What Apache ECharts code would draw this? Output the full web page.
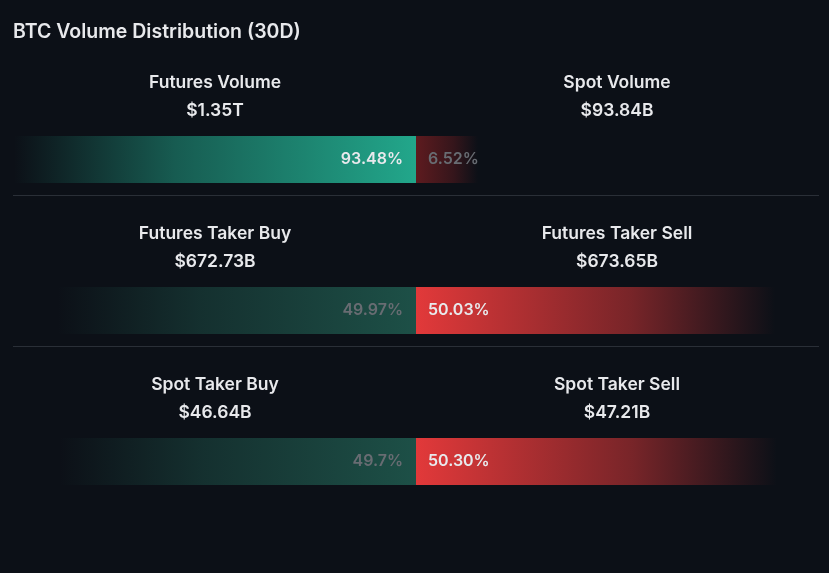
<!DOCTYPE html>
<html lang="en">

<head>
    <meta charset="UTF-8">
    <title>BTC Volume Distribution (30D)</title>
    <script src="https://cdn.jsdelivr.net/npm/echarts@6/dist/echarts.min.js"></script>
    <style>
        html, body {
            margin: 0;
            padding: 0;
            background-color: #0c1017;
        }
        #main {
            width: 829px;
            height: 573px;
        }
    </style>
</head>

<body>
    <div id="main"></div>

    <script>
        // data
        var leftNames = ['Futures Volume', 'Futures Taker Buy', 'Spot Taker Buy'];
        var rightNames = ['Spot Volume', 'Futures Taker Sell', 'Spot Taker Sell'];
        var leftAmounts = ['$1.35T', '$672.73B', '$46.64B'];
        var rightAmounts = ['$93.84B', '$673.65B', '$47.21B'];
        var leftPct = [93.48, 49.97, 49.7];
        var rightPct = [6.52, 50.03, 50.30];
        var leftPctLabels = ['93.48%', '49.97%', '49.7%'];
        var rightPctLabels = ['6.52%', '50.03%', '50.30%'];

        var myChart = echarts.init(document.getElementById('main'));

        var font = 'Inter, "Noto Sans", sans-serif';
        var white = '#e8e9ec';
        var grey = '#686c72';
        var rowTop = [136, 287, 438];
        var rowGap = 151;

        // rgb triple -> gradient that fades out towards the outer end of the bar
        function grad(dir, rgb) {
            var c = 'rgb(' + rgb + ')';
            var stops = [
                { offset: 0, color: c },
                { offset: 0.6, color: 'rgba(' + rgb + ',0.5)' },
                { offset: 0.9, color: 'rgba(' + rgb + ',0.12)' },
                { offset: 1, color: 'rgba(' + rgb + ',0)' }
            ];
            if (dir === 'left') {
                stops = stops.map(function (s) { return { offset: 1 - s.offset, color: s.color }; }).reverse();
            }
            return new echarts.graphic.LinearGradient(0, 0, 1, 0, stops);
        }

        var titles = [{
            text: 'BTC Volume Distribution (30D)',
            left: 13,
            top: 19,
            padding: 0,
            textStyle: { color: white, fontSize: 19.5, fontWeight: 600, fontFamily: font, lineHeight: 26 }
        }];
        var grids = [], xAxes = [], yAxes = [], series = [], lines = [];

        for (var i = 0; i < 3; i++) {
            var leftWins = leftPct[i] >= rightPct[i];
            var nameStyle = { color: white, fontSize: 17.5, fontWeight: 600, fontFamily: font, lineHeight: 24 };
            titles.push({
                text: leftNames[i], subtext: leftAmounts[i],
                left: 215, top: 71 + i * rowGap, textAlign: 'center', padding: 0, itemGap: 4,
                textStyle: nameStyle, subtextStyle: nameStyle
            });
            titles.push({
                text: rightNames[i], subtext: rightAmounts[i],
                left: 617, top: 71 + i * rowGap, textAlign: 'center', padding: 0, itemGap: 4,
                textStyle: nameStyle, subtextStyle: nameStyle
            });

            grids.push({ left: 14, right: 11, top: rowTop[i], height: 47 });
            xAxes.push({
                gridIndex: i, type: 'value', min: -56, max: 56, show: false
            });
            yAxes.push({
                gridIndex: i, type: 'category', data: [leftNames[i]], show: false
            });

            var labelBase = { show: true, fontSize: 16, fontWeight: 600, fontFamily: font };
            series.push({
                type: 'bar', xAxisIndex: i, yAxisIndex: i,
                barWidth: 47, barGap: '-100%', barMinHeight: 60,
                data: [{
                    value: -leftPct[i],
                    itemStyle: { color: grad('left', leftWins ? '34,167,139' : '29,80,71') },
                    label: Object.assign({}, labelBase, {
                        position: 'insideRight', distance: 13,
                        color: leftWins ? white : grey,
                        formatter: leftPctLabels[i]
                    })
                }],
                silent: true
            });
            series.push({
                type: 'bar', xAxisIndex: i, yAxisIndex: i,
                barWidth: 47, barGap: '-100%', barMinHeight: 62,
                data: [{
                    value: rightPct[i],
                    itemStyle: { color: grad('right', leftWins ? '94,27,31' : '226,57,58') },
                    label: Object.assign({}, labelBase, {
                        position: 'insideLeft', distance: 12,
                        color: leftWins ? grey : white,
                        formatter: rightPctLabels[i]
                    })
                }],
                silent: true
            });

            if (i < 2) {
                lines.push({
                    type: 'line',
                    shape: { x1: 13, y1: 195.5 + i * rowGap, x2: 819, y2: 195.5 + i * rowGap },
                    style: { stroke: '#2a2f37', lineWidth: 1 }
                });
            }
        }

        var option = {
            backgroundColor: '#0c1017',
            animation: false,
            title: titles,
            grid: grids,
            xAxis: xAxes,
            yAxis: yAxes,
            series: series,
            graphic: lines
        };

        myChart.setOption(option);
    </script>
</body>

</html>
